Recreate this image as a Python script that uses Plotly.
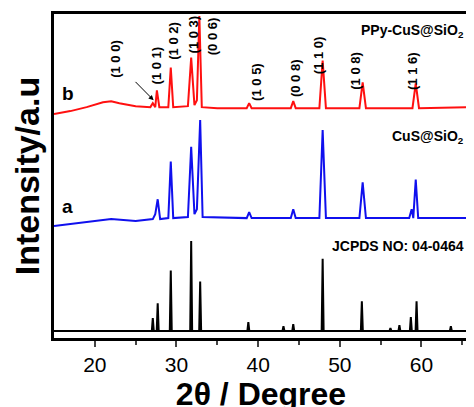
import plotly.graph_objects as go

# measured positions (2theta) and intensities (pixel-like, later flipped)
red_x = [15,17,19,21,22,23,25,26.8,27.1,27.4,27.6,27.9,29.0,29.3,29.6,31.4,31.8,32.2,32.5,32.8,33.1,35,38.6,38.9,39.2,44.0,44.3,44.6,47.5,47.9,48.3,52.4,52.8,53.2,58.9,59.3,59.7,65.7]
red_p = [104,101,97,92,91,93,96,97,93,97,80,97,97,57,97,96,47,95,90,5,97,98,98,93,98,98,91,98,98,50,98,98,72,98,98,73,98,97]
blue_x = [15,18,22,25,27.1,27.4,27.7,28.0,29.0,29.3,29.6,31.4,31.8,32.2,32.5,32.9,33.2,38.6,38.9,39.2,44.0,44.3,44.6,47.5,47.9,48.3,52.4,52.8,53.2,58.5,58.8,59.0,59.3,59.6,65.7]
blue_p = [217,214,210,212,210,205,190,210,209,152,209,208,137,205,200,110,208,209,203,209,209,200,209,209,120,209,209,173,209,209,200,209,170,209,209]
ref_pos = [27.1,27.7,29.3,31.8,32.9,38.8,43.1,44.3,47.9,52.7,56.2,57.3,58.7,59.4,63.6]
ref_top = [310,295,262,232,273,314,318,316,250,293,320,317,309,293,318]
REF_BASE = 323
hkl = ["(1 0 0)","(1 0 1)","(1 0 2)","(1 0 3)","(0 0 6)","(1 0 5)","(0 0 8)","(1 1 0)","(1 0 8)","(1 1 6)"]
hkl_x = [22.5,27.6,29.7,32.1,34.4,39.8,44.6,47.4,51.9,58.9]
hkl_p = [48,55,30,24,25,72,68,45,60,60]

H = 330
def flip(v): return [H - p for p in v]

rx, ry = [15], [H - REF_BASE]
for c, t in zip(ref_pos, ref_top):
    rx += [c-0.12, c, c+0.12]
    ry += [H-REF_BASE, H-t, H-REF_BASE]
rx.append(65.7); ry.append(H-REF_BASE)

fig = go.Figure()
fig.add_trace(go.Scatter(x=rx, y=ry, mode="lines", line=dict(color="black", width=2)))
fig.add_trace(go.Scatter(x=blue_x, y=flip(blue_p), mode="lines", line=dict(color="#1010ee", width=2)))
fig.add_trace(go.Scatter(x=red_x, y=flip(red_p), mode="lines", line=dict(color="#ff1010", width=2)))

F = "Liberation Sans, Arial"
for t, x, p in zip(hkl, hkl_x, hkl_p):
    fig.add_annotation(x=x, y=H-p, text=f"<b>{t}</b>", textangle=-90, showarrow=False,
                       font=dict(family=F, size=13, color="black"))
fig.add_annotation(x=27.2, y=H-90, ax=24.8, ay=H-70, xref="x", yref="y", axref="x", ayref="y",
                   text="", showarrow=True, arrowhead=2, arrowsize=1, arrowwidth=1, arrowcolor="black")
for t, y in [("PPy-CuS@SiO<sub>2</sub>", 20), ("CuS@SiO<sub>2</sub>", 127), ("JCPDS NO: 04-0464", 237)]:
    fig.add_annotation(x=65.4, y=H-y, text=f"<b>{t}</b>", xanchor="right", showarrow=False,
                       font=dict(family=F, size=14, color="black"))
for t, y in [("b", 83), ("a", 197)]:
    fig.add_annotation(x=16.7, y=H-y, text=f"<b>{t}</b>", showarrow=False,
                       font=dict(family=F, size=19, color="black"))

fig.update_layout(
    width=474, height=407, margin=dict(l=46, r=14, t=3, b=77),
    plot_bgcolor="white", paper_bgcolor="white", showlegend=False,
    xaxis=dict(range=[15, 65.7], tickvals=[20,30,40,50,60], ticks="outside", ticklen=6, tickwidth=2,
               minor=dict(tickvals=[25,35,45,55,65], ticks="outside", ticklen=4, tickwidth=2),
               showline=True, linewidth=2.5, linecolor="black", mirror=True, showgrid=False, zeroline=False,
               tickfont=dict(family=F, size=21, color="black"),
               title=dict(text="<b>2θ / Degree</b>", font=dict(family=F, size=32, color="black"), standoff=2)),
    yaxis=dict(range=[0, 327], showticklabels=False, ticks="", showline=True, linewidth=2.5, linecolor="black",
               mirror=True, showgrid=False, zeroline=False,
               title=dict(text="<b>Intensity/a.u</b>", font=dict(family=F, size=34, color="black"), standoff=2)),
)
fig.write_html("out.html")
